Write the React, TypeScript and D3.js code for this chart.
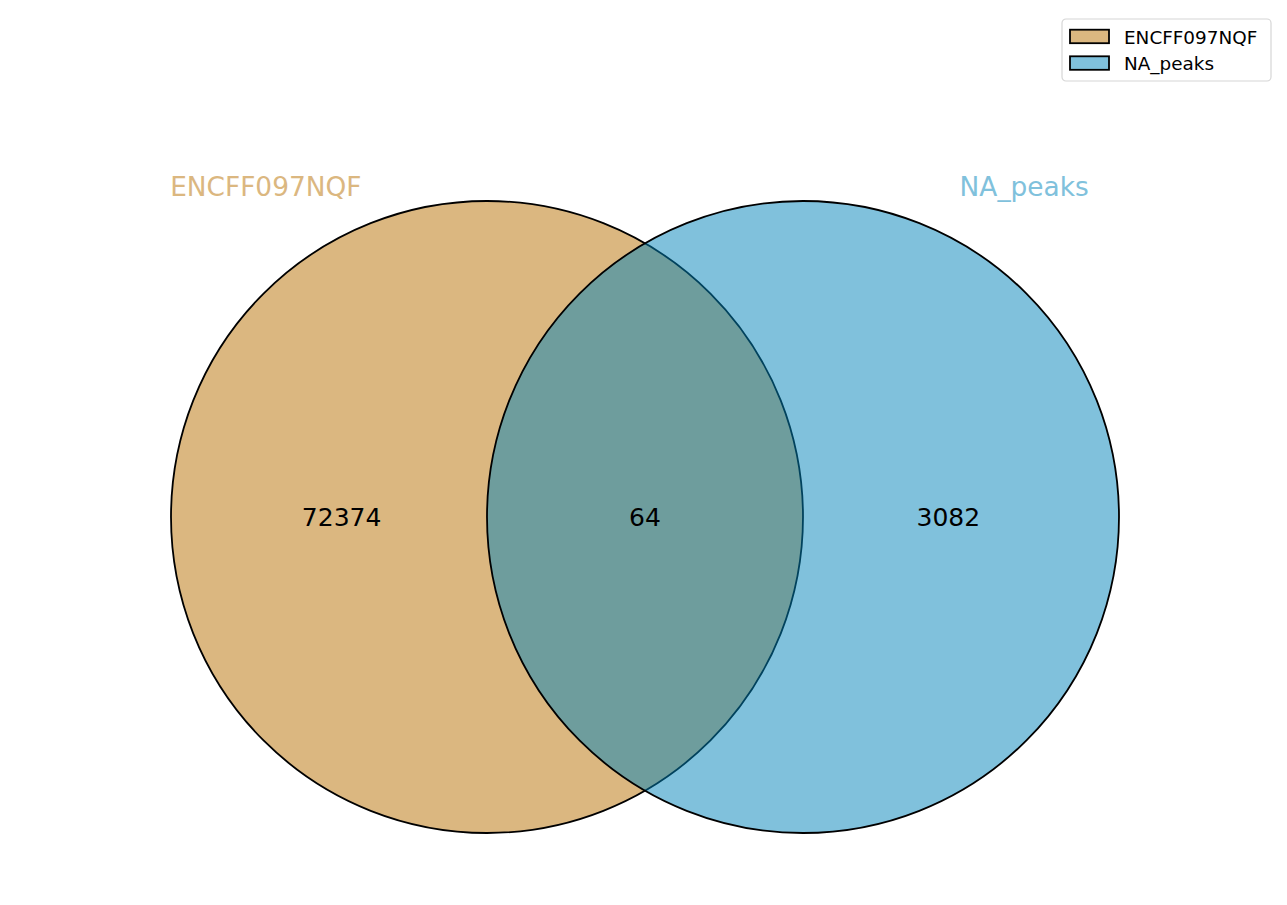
import React, { useEffect, useRef } from 'react';
import * as d3 from 'd3';

// set names, subset counts (A only, A&B, B only) and colours
const setNames = ['ENCFF097NQF', 'NA_peaks'];
const subsetLabels = ['72374', '64', '3082'];
const setColors = ['rgb(183,111,1)', 'rgb(1,131,185)'];
const labelColors = ['rgb(219,183,128)', 'rgb(128,193,220)'];

// unweighted layout, in circle-radius units
const circleCenters = [-0.5, 0.5];
const subsetX = [-0.96, 0, 0.96];
const setLabelX = [-1.2, 1.2];

const W = 1287;
const H = 905;

const App: React.FC = () => {
  const svgRef = useRef<SVGSVGElement | null>(null);

  useEffect(() => {
    if (!svgRef.current) return;
    const svg = d3.select(svgRef.current);
    svg.selectAll('*').remove();

    const r = 316;
    const x = d3.scaleLinear().domain([0, 1]).range([645, 645 + r]);
    const y = d3.scaleLinear().domain([0, 1]).range([517, 517 - r]);

    const g = svg.append('g');

    // circles, fill half transparent so the overlap mixes
    g.selectAll('circle.set')
      .data(circleCenters)
      .join('circle')
      .attr('class', 'set')
      .attr('cx', d => x(d))
      .attr('cy', y(0))
      .attr('r', r)
      .attr('fill', (d, i) => setColors[i])
      .attr('fill-opacity', 0.5)
      .attr('stroke', 'black')
      .attr('stroke-width', 1.8);

    // set labels
    g.selectAll('text.setlabel')
      .data(setNames)
      .join('text')
      .attr('class', 'setlabel')
      .attr('x', (d, i) => x(setLabelX[i]))
      .attr('y', y(1) - 5)
      .attr('text-anchor', 'middle')
      .style('font', '26.4px "DejaVu Sans"')
      .attr('fill', (d, i) => labelColors[i])
      .text(d => d);

    // subset counts
    g.selectAll('text.count')
      .data(subsetLabels)
      .join('text')
      .attr('class', 'count')
      .attr('x', (d, i) => x(subsetX[i]))
      .attr('y', y(0))
      .attr('dy', '0.36em')
      .attr('text-anchor', 'middle')
      .style('font', '25px "DejaVu Sans"')
      .attr('fill', 'black')
      .text(d => d);

    // legend
    const legend = svg.append('g').attr('transform', 'translate(1062,19)');
    legend.append('rect')
      .attr('width', 209)
      .attr('height', 62)
      .attr('rx', 4)
      .attr('fill', 'white')
      .attr('stroke', '#d6d6d6')
      .attr('stroke-width', 1.2);

    const items = legend.selectAll('g.item')
      .data(setNames)
      .join('g')
      .attr('class', 'item')
      .attr('transform', (d, i) => `translate(0,${i * 26.6})`);

    items.append('rect')
      .attr('x', 8)
      .attr('y', 10.7)
      .attr('width', 39)
      .attr('height', 13.5)
      .attr('fill', (d, i) => setColors[i])
      .attr('fill-opacity', 0.5)
      .attr('stroke', 'black')
      .attr('stroke-width', 1.8);

    items.append('text')
      .attr('x', 62)
      .attr('y', 24.5)
      .style('font', '18.4px "DejaVu Sans"')
      .attr('fill', 'black')
      .text(d => d);
  }, []);

  return (
    <svg
      ref={svgRef}
      width={W}
      height={H}
      style={{ position: 'absolute', left: 0, top: 0, background: 'white' }}
    ></svg>
  );
};

export default App;
